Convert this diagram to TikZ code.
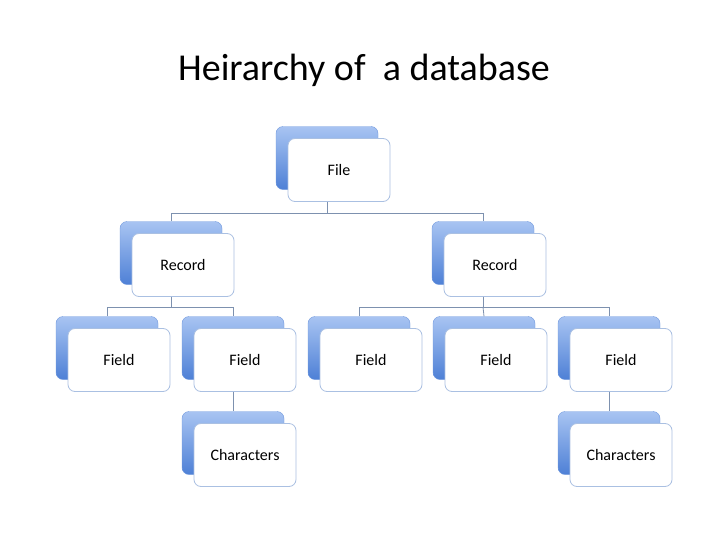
\documentclass[tikz,border=0pt]{standalone}
\usepackage{fontspec}
\setmainfont{Carlito}
\begin{document}
\begin{tikzpicture}[x=1pt,y=-1pt,
  back/.style={rounded corners=7pt,top color=blue1,bottom color=blue2,draw=blue2!80,line width=0.4pt,minimum width=102pt,minimum height=63pt,inner sep=0pt},
  front/.style={rounded corners=7pt,fill=white,draw=edge,line width=0.8pt,minimum width=102pt,minimum height=63pt,inner sep=0pt,font=\fontsize{16}{18}\selectfont},
  conn/.style={draw=linec,line width=0.8pt}]
\definecolor{blue1}{RGB}{168,196,242}
\definecolor{blue2}{RGB}{78,128,214}
\definecolor{edge}{RGB}{170,192,226}
\definecolor{linec}{RGB}{125,145,175}
\useasboundingbox (0,0) rectangle (728,546);
\fill[white] (0,0) rectangle (728,546);
\node[font=\fontsize{38}{44}\selectfont] (title) at (364,70) {Heirarchy of\ \ a database};
% helper: back box center (cx,cy), front offset +12,+12
\newcommand\mybox[4]{%
  \node[back] (#1b) at (#2,#3) {};
  \node[front] (#1) at (#2+12,#3+12) {#4};}
\mybox{file}{327}{158}{File}
\mybox{recL}{171}{253}{Record}
\mybox{recR}{483}{253}{Record}
\mybox{f1}{107}{348}{Field}
\mybox{f2}{233}{348}{Field}
\mybox{f3}{359}{348}{Field}
\mybox{f4}{484}{348}{Field}
\mybox{f5}{609}{348}{Field}
\mybox{c1}{233}{443}{Characters}
\mybox{c2}{609}{443}{Characters}
\path[conn] (file.south -| fileb.south) -- ++(0,11) coordinate (j1);
\draw[conn] (recLb.north) |- (j1) -| (recRb.north);
\path[conn] (recL.south -| recLb.south) -- ++(0,10) coordinate (j2);
\draw[conn] (f1b.north) |- (j2) -| (f2b.north);
\path[conn] (recR.south -| recRb.south) -- ++(0,10) coordinate (j3);
\draw[conn] (f3b.north) |- (j3) -| (f5b.north);
\draw[conn] (j3) -- (f4b.north);
\draw[conn] (f2.south -| f2b.south) -- (c1b.north);
\draw[conn] (f5.south -| f5b.south) -- (c2b.north);
\end{tikzpicture}
\end{document}
